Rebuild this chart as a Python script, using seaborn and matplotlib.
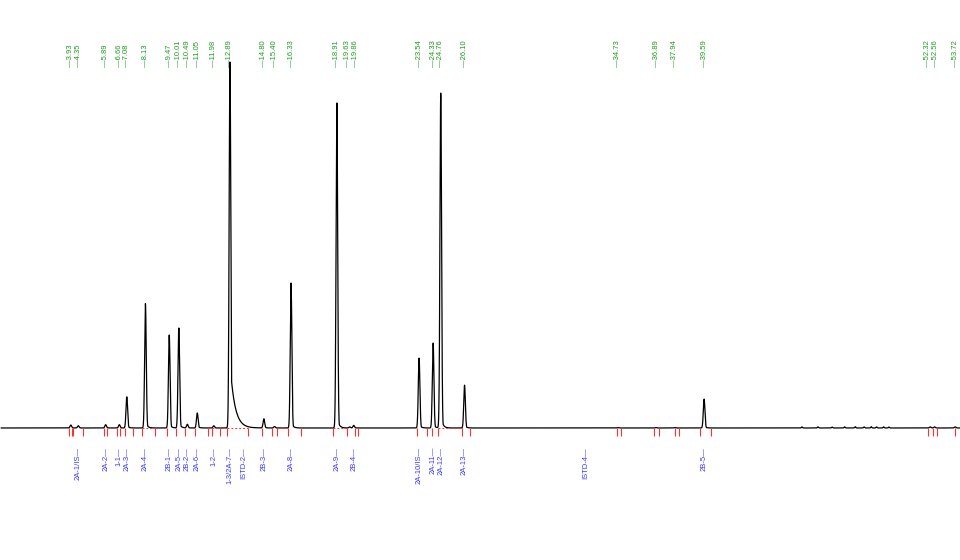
import numpy as np
import pandas as pd
import matplotlib
matplotlib.use('Agg')
import matplotlib.pyplot as plt
import seaborn as sns

# ------------------------------------------------------------
# peak table (rt in min, height in % of largest)
# ------------------------------------------------------------
peak_rt = [3.93, 4.35, 5.89, 6.66, 7.08, 8.13, 9.47, 10.01, 10.49, 11.05,
           11.98, 12.89, 14.80, 15.40, 16.33, 18.91, 19.63, 19.86, 23.54,
           24.33, 24.76, 26.10, 34.73, 36.89, 37.94, 39.59, 52.32, 52.56, 53.72]
peak_height = [0.8, 0.6, 0.9, 0.9, 8.5, 34.0, 25.4, 27.3, 1.0, 4.1,
               0.6, 100.0, 2.5, 0.4, 39.6, 88.8, 0.3, 0.7, 19.1,
               23.2, 91.5, 11.7, 0.1, 0.1, 0.1, 7.9, 0.3, 0.3, 0.3]
peak_tail = [0.1, 0.1, 0.1, 0.1, 0.06, 0.05, 0.05, 0.06, 0.1, 0.1,
             0.1, 0.18, 0.1, 0.1, 0.04, 0.04, 0.1, 0.1, 0.05,
             0.05, 0.04, 0.05, 0.0, 0.0, 0.0, 0.05, 0.0, 0.0, 0.0]
peak_tau = [0.1, 0.1, 0.1, 0.1, 0.1, 0.1, 0.1, 0.1, 0.1, 0.1,
            0.1, 0.26, 0.1, 0.1, 0.1, 0.1, 0.1, 0.1, 0.1,
            0.1, 0.1, 0.1, 0.1, 0.1, 0.1, 0.1, 0.1, 0.1, 0.1]

# green retention-time labels on top
rt_labels = ['3.93', '4.35', '5.89', '6.66', '7.08', '8.13', '9.47', '10.01', '10.49', '11.05',
             '11.98', '12.89', '14.80', '15.40', '16.33', '18.91', '19.63', '19.86', '23.54',
             '24.33', '24.76', '26.10', '34.73', '36.89', '37.94', '39.59', '52.32', '52.56', '53.72']
# crowded labels pushed apart a little so they stay readable
label_shift = {'19.63': -0.1, '19.86': 0.08, '52.32': -0.14, '52.56': 0.08}

# small noise specks in the late part of the run
noise_rt = [45.1, 46.0, 46.8, 47.5, 48.1, 48.6, 49.0, 49.3, 49.7, 50.0]
noise_height = [0.3, 0.3, 0.25, 0.3, 0.35, 0.3, 0.35, 0.3, 0.3, 0.25]

# blue compound names at the bottom
cmpd_names = ['2A-1/IS', '2A-2', '1-1', '2A-3', '2A-4', '2B-1', '2A-5', '2B-2', '2A-6', '1-2',
              '1-3/2A-7', 'ISTD-2', '2B-3', '2A-8', '2A-9', '2B-4', '2A-10/IS', '2A-11',
              '2A-12', '2A-13', 'ISTD-4', '2B-5']
cmpd_rt = [4.35, 5.89, 6.66, 7.08, 8.13, 9.47, 10.01, 10.49, 11.05, 11.98,
           12.89, 13.68, 14.80, 16.33, 18.91, 19.86, 23.54, 24.33,
           24.76, 26.10, 32.95, 39.59]

# red integration markers
int_marks = [3.83, 4.00, 4.05, 4.62, 5.80, 5.97, 6.53, 6.70, 6.98, 7.43, 7.94, 8.67,
             9.35, 9.85, 10.36, 10.92, 11.66, 11.88, 12.33, 12.72, 13.91, 14.72,
             15.26, 15.54, 16.16, 16.89, 18.69, 19.48, 19.93, 20.10, 23.42, 23.99,
             24.27, 24.61, 25.96, 26.41, 34.68, 34.91, 36.77, 37.05, 37.95, 38.18,
             39.36, 39.98, 52.20, 52.50, 52.70, 53.70]
dash_from = [7.94, 11.66, 12.72, 15.54, 18.69, 24.61]
dash_to = [8.67, 12.33, 13.91, 16.16, 19.48, 25.96]

# ------------------------------------------------------------
# build trace
# ------------------------------------------------------------
t = np.linspace(0, 54, 27000)
sig = np.zeros_like(t)
width = 0.045
for rt, h, fr, tau in zip(peak_rt, peak_height, peak_tail, peak_tau):
    g = np.exp(-0.5 * ((t - rt) / width) ** 2)
    tail = np.where(t > rt, fr * np.exp(-(t - rt) / tau), 0.0)
    sig += h * np.maximum(g, tail)
for rt, h in zip(noise_rt, noise_height):
    sig += h * np.exp(-0.5 * ((t - rt) / 0.03) ** 2)

df = pd.DataFrame({'time': t, 'signal': sig})

# ------------------------------------------------------------
# plot
# ------------------------------------------------------------
sns.set_style('white')
plt.rcParams['font.family'] = ['Liberation Sans', 'DejaVu Sans']

fig = plt.figure(figsize=(9.6, 5.6), dpi=100)
ax = fig.add_axes([0, 0, 1, 1])

sns.lineplot(data=df, x='time', y='signal', color='black', lw=0.9,
             estimator=None, ax=ax)

ax.vlines(int_marks, -2.2, 0, color='#ff3030', lw=0.8)
for a, b in zip(dash_from, dash_to):
    ax.plot([a, b], [0, 0], color='#ff3030', lw=0.7, ls=(0, (2, 2)))

trans = ax.get_xaxis_transform()
for rt, lab in zip(peak_rt, rt_labels):
    ax.text(rt + label_shift.get(lab, 0.0), 0.880, '\u2014' + lab, rotation=90,
            ha='center', va='bottom', color='#1f9a1f', fontsize=5.5, transform=trans)
for rt, lab in zip(cmpd_rt, cmpd_names):
    ax.text(rt, 0.2018, lab + '\u2014', rotation=90, ha='center', va='top',
            color='#3a3aff', fontsize=5.5, transform=trans)

ax.set_xlim(-0.06, 54.0)
ax.set_ylim(-36.07, 116.93)
ax.set_axis_off()

fig.savefig('out.png', dpi=100)
